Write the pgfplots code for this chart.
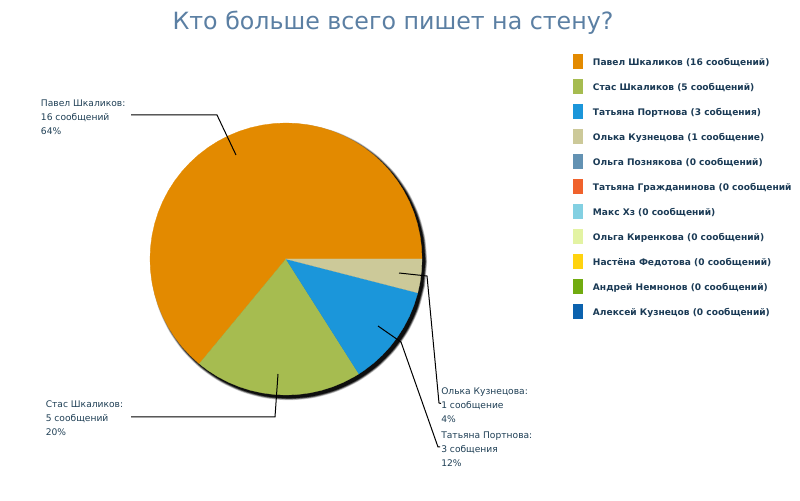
\documentclass[border=0pt]{standalone}
\usepackage{pgfplots}
\pgfplotsset{compat=1.18}
\usepackage{pgfplotstable}
\usepgfplotslibrary{polar}
\usepackage{fontspec}
\setmainfont{DejaVu Sans}
\definecolor{c1}{HTML}{E38A00}
\definecolor{c2}{HTML}{A6BC50}
\definecolor{c3}{HTML}{1B96DA}
\definecolor{c4}{HTML}{CCC999}
\definecolor{c5}{HTML}{6392B3}
\definecolor{c6}{HTML}{F0622C}
\definecolor{c7}{HTML}{83D0E2}
\definecolor{c8}{HTML}{E3F3A3}
\definecolor{c9}{HTML}{FFD30F}
\definecolor{c10}{HTML}{71AB10}
\definecolor{c11}{HTML}{0B62AE}
\definecolor{tit}{HTML}{5B7FA3}
\definecolor{lab}{HTML}{1F3F55}
\definecolor{leg}{HTML}{1A3A55}
% circle outlines for the drop shadow: angle and radius per layer
\pgfplotstableread{
a r1 r2 r3 r4
0 138.4 137.8 137.2 136.5
10 138.4 137.8 137.2 136.5
20 138.4 137.8 137.2 136.5
30 138.4 137.8 137.2 136.5
40 138.4 137.8 137.2 136.5
50 138.4 137.8 137.2 136.5
60 138.4 137.8 137.2 136.5
70 138.4 137.8 137.2 136.5
80 138.4 137.8 137.2 136.5
90 138.4 137.8 137.2 136.5
100 138.4 137.8 137.2 136.5
110 138.4 137.8 137.2 136.5
120 138.4 137.8 137.2 136.5
130 138.4 137.8 137.2 136.5
140 138.4 137.8 137.2 136.5
150 138.4 137.8 137.2 136.5
160 138.4 137.8 137.2 136.5
170 138.4 137.8 137.2 136.5
180 138.4 137.8 137.2 136.5
190 138.4 137.8 137.2 136.5
200 138.4 137.8 137.2 136.5
210 138.4 137.8 137.2 136.5
220 138.4 137.8 137.2 136.5
230 138.4 137.8 137.2 136.5
240 138.4 137.8 137.2 136.5
250 138.4 137.8 137.2 136.5
260 138.4 137.8 137.2 136.5
270 138.4 137.8 137.2 136.5
280 138.4 137.8 137.2 136.5
290 138.4 137.8 137.2 136.5
300 138.4 137.8 137.2 136.5
310 138.4 137.8 137.2 136.5
320 138.4 137.8 137.2 136.5
330 138.4 137.8 137.2 136.5
340 138.4 137.8 137.2 136.5
350 138.4 137.8 137.2 136.5
}\shadowtable
\newcommand{\lab}[3]{\node[anchor=base west,inner sep=0pt,yshift=-2.5pt,text=lab,font=\fontsize{6.85}{8}\selectfont] at (axis cs:#1,#2) {#3};}
\newcommand{\leg}[2]{\node[anchor=base west,inner sep=0pt,yshift=-2.5pt,text=leg,font=\fontsize{6.8}{8}\selectfont\bfseries] at (axis cs:306.7,#1) {#2};}
\begin{document}
\begin{tikzpicture}
\useasboundingbox (0,0) rectangle (600pt,375pt);
\begin{axis}[
  scale only axis, width=600pt, height=375pt,
  xmin=-286, xmax=514, ymin=-241, ymax=259,
  hide axis, clip=false]
% shadow
\addplot[fill=black, draw=none, fill opacity=0.2, smooth, data cs=polar, xshift=2.1pt, yshift=-2.1pt] table[x=a,y=r1] {\shadowtable} -- cycle;
\addplot[fill=black, draw=none, fill opacity=0.3, smooth, data cs=polar, xshift=2.1pt, yshift=-2.1pt] table[x=a,y=r2] {\shadowtable} -- cycle;
\addplot[fill=black, draw=none, fill opacity=0.5, smooth, data cs=polar, xshift=2.1pt, yshift=-2.1pt] table[x=a,y=r3] {\shadowtable} -- cycle;
\addplot[fill=black, draw=none, fill opacity=0.8, smooth, data cs=polar, xshift=2.1pt, yshift=-2.1pt] table[x=a,y=r4] {\shadowtable} -- cycle;
% slices: 16, 5, 3, 1 messages = 64%, 20%, 12%, 4%
\addplot[fill=c1, draw=c1, line width=0.2pt, data cs=polar] coordinates {(0,0)(0,136)(5,136)(10,136)(15,136)(20,136)(25,136)(30,136)(35,136)(40,136)(45,136)(50,136)(55,136)(60,136)(65,136)(70,136)(75,136)(80,136)(85,136)(90,136)(95,136)(100,136)(105,136)(110,136)(115,136)(120,136)(125,136)(130,136)(135,136)(140,136)(145,136)(150,136)(155,136)(160,136)(165,136)(170,136)(175,136)(180,136)(185,136)(190,136)(195,136)(200,136)(205,136)(210,136)(215,136)(220,136)(225,136)(230,136)(230.4,136)} -- cycle;
\addplot[fill=c2, draw=c2, line width=0.2pt, data cs=polar] coordinates {(0,0)(230.4,136)(235,136)(240,136)(245,136)(250,136)(255,136)(260,136)(265,136)(270,136)(275,136)(280,136)(285,136)(290,136)(295,136)(300,136)(302.4,136)} -- cycle;
\addplot[fill=c3, draw=c3, line width=0.2pt, data cs=polar] coordinates {(0,0)(302.4,136)(305,136)(310,136)(315,136)(320,136)(325,136)(330,136)(335,136)(340,136)(345,136)(345.6,136)} -- cycle;
\addplot[fill=c4, draw=c4, line width=0.2pt, data cs=polar] coordinates {(0,0)(345.6,136)(350,136)(355,136)(360,136)} -- cycle;
% leader lines
\addplot[black, line width=0.75pt] coordinates {(-155,144)(-69,144)(-50,104)};
\addplot[black, line width=0.75pt] coordinates {(-155,-158)(-11,-158)(-8,-115)};
\addplot[black, line width=0.75pt] coordinates {(113,-14)(141,-17)(153,-144)(155,-144.5)};
\addplot[black, line width=0.75pt] coordinates {(92,-67)(115,-83)(152,-188)(154,-188)};
% legend swatches
\addplot[fill=c1, draw=none] coordinates {(287,204.5)(297,204.5)(297,189.5)(287,189.5)} -- cycle;
\addplot[fill=c2, draw=none] coordinates {(287,179.5)(297,179.5)(297,164.5)(287,164.5)} -- cycle;
\addplot[fill=c3, draw=none] coordinates {(287,154.5)(297,154.5)(297,139.5)(287,139.5)} -- cycle;
\addplot[fill=c4, draw=none] coordinates {(287,129.5)(297,129.5)(297,114.5)(287,114.5)} -- cycle;
\addplot[fill=c5, draw=none] coordinates {(287,104.5)(297,104.5)(297,89.5)(287,89.5)} -- cycle;
\addplot[fill=c6, draw=none] coordinates {(287,79.5)(297,79.5)(297,64.5)(287,64.5)} -- cycle;
\addplot[fill=c7, draw=none] coordinates {(287,54.5)(297,54.5)(297,39.5)(287,39.5)} -- cycle;
\addplot[fill=c8, draw=none] coordinates {(287,29.5)(297,29.5)(297,14.5)(287,14.5)} -- cycle;
\addplot[fill=c9, draw=none] coordinates {(287,4.5)(297,4.5)(297,-10.5)(287,-10.5)} -- cycle;
\addplot[fill=c10, draw=none] coordinates {(287,-20.5)(297,-20.5)(297,-35.5)(287,-35.5)} -- cycle;
\addplot[fill=c11, draw=none] coordinates {(287,-45.5)(297,-45.5)(297,-60.5)(287,-60.5)} -- cycle;
% title
\node[anchor=base,inner sep=0pt,text=tit,font=\fontsize{17.8}{22}\selectfont] at (axis cs:107,229) {Кто больше всего пишет на стену?};
% legend text
\leg{197}{Павел Шкаликов (16 сообщений)}
\leg{172}{Стас Шкаликов (5 сообщений)}
\leg{147}{Татьяна Портнова (3 собщения)}
\leg{122}{Олька Кузнецова (1 сообщение)}
\leg{97}{Ольга Познякова (0 сообщений)}
\leg{72}{Татьяна Гражданинова (0 сообщений}
\leg{47}{Макс Хз (0 сообщений)}
\leg{22}{Ольга Киренкова (0 сообщений)}
\leg{-3}{Настёна Федотова (0 сообщений)}
\leg{-28}{Андрей Немнонов (0 сообщений)}
\leg{-53}{Алексей Кузнецов (0 сообщений)}
% data labels
\lab{-245.3}{156}{Павел Шкаликов:}
\lab{-245.3}{142}{16 сообщений}
\lab{-245.3}{128}{64\%}
\lab{-240.5}{-145}{Стас Шкаликов:}
\lab{-240.5}{-159}{5 сообщений}
\lab{-240.5}{-173}{20\%}
\lab{155}{-132}{Олька Кузнецова:}
\lab{155}{-146}{1 сообщение}
\lab{155}{-160}{4\%}
\lab{155}{-176}{Татьяна Портнова:}
\lab{155}{-190}{3 собщения}
\lab{155}{-204}{12\%}
\end{axis}
\end{tikzpicture}
\end{document}
